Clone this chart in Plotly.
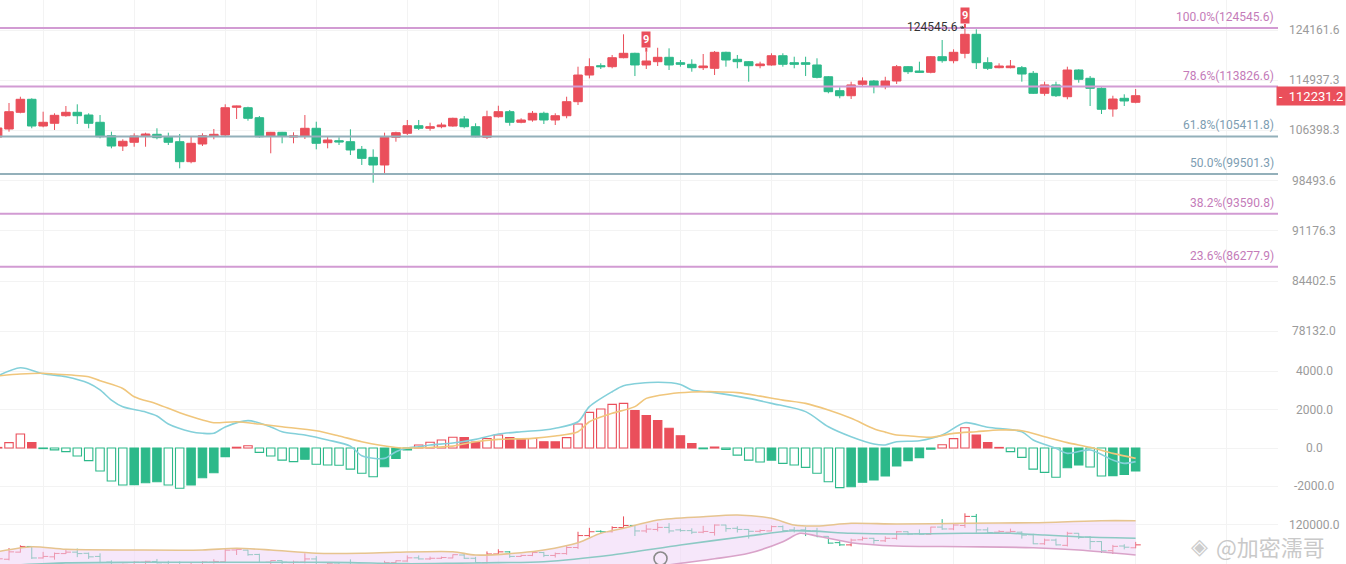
import math
import plotly.graph_objects as go

# ---------------- data ----------------
candle_idx = list(range(101))
open_ = [105318, 106630, 109402, 111612, 107120, 107568, 108828, 109402, 108946, 107734,
         105531, 103876, 104472, 105482, 105761, 105285, 104568, 101402, 104198, 105482,
         105646, 110244, 110175, 108498, 105482, 106089, 105318, 105482, 106745, 104407,
         104729, 104568, 103345, 102083, 100887, 105285, 105925, 107170, 106745, 107004,
         107120, 108282, 107004, 105285, 108659, 109504, 107734, 108116, 109233, 108116,
         108828, 111201, 115855, 117529, 117349, 118983, 119791, 117660, 118255, 119055,
         118073, 117783, 117169, 117061, 119976, 118691, 118255, 117529, 117660, 119346,
         118073, 118073, 117660, 115549, 113097, 112227, 114214, 114797, 113803, 114797,
         117349, 116575, 116341, 119165, 118437, 119791, 123341, 118073, 117169, 117169,
         117169, 116161, 112645, 114104, 112056, 116755, 115275, 113515, 109960, 111783,
         111099]
high_ = [107122, 110979, 112056, 111783, 109504, 109233, 110466, 110757, 109233, 108946,
         106187, 104955, 105925, 106023, 106745, 106023, 105810, 105367, 105925, 106630,
         110757, 110520, 110346, 108775, 106150, 106150, 106089, 108946, 107834, 105367,
         105285, 106581, 103876, 103345, 106023, 106187, 108116, 108116, 107668, 107668,
         108498, 108775, 107568, 109673, 110517, 109791, 108398, 109622, 109504, 109233,
         112056, 117349, 118873, 117963, 119482, 123341, 119901, 120087, 120819, 120711,
         118564, 118691, 119661, 120216, 120087, 119482, 118382, 118255, 119791, 119791,
         119165, 119165, 118873, 115675, 113697, 114673, 115440, 114974, 115549, 117660,
         117475, 118255, 119291, 122267, 120531, 124545.6, 124296, 119055, 117963, 118564,
         117475, 116575, 114673, 114673, 117349, 116881, 115675, 113697, 112227, 112471,
         113393]
low_ = [105003, 106187, 109233, 106745, 106909, 106466, 108659, 107452, 106745, 105116,
        103506, 103083, 103763, 103763, 104955, 104037, 100372, 101152, 103876, 104955,
        105367, 108282, 107999, 105219, 102717, 104311, 104311, 105003, 103345, 103506,
        104037, 102447, 100887, 98178, 99500, 104568, 105646, 106466, 106351, 106745,
        107004, 106745, 105285, 105003, 108498, 107170, 107568, 107834, 107452, 107286,
        108398, 110637, 115261, 116935, 117061, 118873, 115675, 116935, 117475, 116755,
        117349, 116449, 116755, 115855, 117349, 117061, 114673, 117061, 117529, 117349,
        117061, 115675, 115261, 112645, 111783, 111663, 113927, 112645, 113342, 114267,
        116035, 116269, 116161, 118073, 117963, 118873, 116935, 116755, 117061, 117061,
        114673, 112523, 112227, 112005, 111612, 114496, 110466, 109115, 108659, 110466,
        110928]
close_ = [106794, 109504, 111612, 107120, 107734, 108895, 109402, 108828, 107568, 105367,
          103876, 104633, 105482, 105810, 105219, 104472, 101402, 104311, 105531, 105761,
          110175, 110466, 108398, 105367, 106089, 105482, 105482, 106745, 104311, 104842,
          104520, 103242, 101922, 100887, 105285, 106023, 107170, 106745, 107004, 107286,
          108398, 107004, 105367, 108659, 109504, 107734, 108116, 109233, 108116, 108828,
          111201, 115855, 117349, 117349, 118983, 119791, 117660, 118382, 119055, 117660,
          117783, 117169, 117475, 119976, 118564, 118255, 117529, 117836, 119346, 117783,
          117783, 117783, 115440, 112923, 112227, 114104, 114797, 113927, 114797, 117349,
          116449, 116341, 119165, 118437, 119976, 123341, 118073, 117061, 117475, 117475,
          116035, 112645, 114104, 112227, 116755, 115098, 113515, 109909, 111663, 111321,
          112231.2]
last_price = 112231.2
ath_price = 124545.6
ath_idx = 85
td9_idx = [57, 85]

fib_levels = [124545.6, 113826.6, 105411.8, 99501.3, 93590.8, 86277.9]
fib_pcts = ["100.0%", "78.6%", "61.8%", "50.0%", "38.2%", "23.6%"]

price_ticks = [124161.6, 114937.3, 106398.3, 98493.6, 91176.3, 84402.5, 78132.0]
macd_ticks = [4000.0, 2000.0, 0.0, -2000.0]
boll_ticks = [120000.0]

macd_hist = [30, 280, 730, 280, -30, -100, -190, -420, -660, -1200,
             -1720, -1930, -1910, -1810, -1760, -1930, -2100, -1930, -1550, -1290,
             -450, 40, 120, -230, -420, -630, -710, -590, -850, -890,
             -900, -1100, -1320, -1500, -975, -540, -100, 160, 300, 420,
             560, 540, 310, 500, 680, 540, 450, 500, 330, 320,
             540, 1250, 1860, 2040, 2280, 2330, 1950, 1690, 1430, 1030,
             640, 230, -40, 50, -70, -370, -630, -730, -630, -800,
             -890, -1010, -1320, -1760, -2070, -2020, -1790, -1670, -1460, -940,
             -660, -500, -60, 170, 490, 1060, 680, 280, 30, -190,
             -490, -1100, -1270, -1530, -1030, -890, -990, -1460, -1440, -1380,
             -1200]

dif_idx = [0, 2, 4, 6, 8, 9, 10, 11, 13, 14, 15, 17, 18, 19, 20, 22, 24, 25, 27, 29,
           31, 32, 34, 35, 36, 37, 38, 40, 42, 44, 46, 48, 49, 51, 52, 54, 55, 58, 60, 61,
           63, 66, 68, 71, 73, 75, 77, 78, 79, 81, 83, 85, 87, 90, 91, 93, 94, 96, 98, 99, 100]
dif_val = [3760, 4190, 3880, 3720, 3380, 3030, 2500, 2150, 1880, 1670, 1250, 850, 770, 770, 1100,
           1430, 1100, 850, 680, 420, 100, -400, -540, -190, 0, 70, 160, 260, 450, 730,
           850, 940, 1030, 1370, 2160, 2940, 3250, 3430, 3320, 3030, 2890, 2590, 2330, 1900,
           1110, 590, 210, 160, 330, 383, 680, 1320, 1080, 850, 420, -17, -280, -100, -630,
           -800, -710]
dea_idx = [0, 2, 4, 5, 8, 9, 11, 12, 14, 16, 18, 19, 21, 23, 25, 28, 30, 32, 35, 36, 38, 40,
           42, 44, 47, 49, 51, 52, 54, 56, 57, 59, 61, 63, 65, 67, 69, 71, 73, 75, 77, 78, 79,
           80, 82, 84, 86, 88, 90, 92, 94, 96, 98, 100]
dea_val = [3760, 3860, 3900, 3860, 3720, 3510, 3110, 2680, 2300, 1840, 1460, 1320, 1370, 1250,
           1110, 900, 630, 330, 30, 0, 30, 100, 330, 450, 505, 626, 850, 1370, 1810, 2160,
           2590, 2820, 2920, 2940, 2890, 2710, 2500, 2330, 1980, 1550, 1010, 830, 680, 640,
           557, 765, 850, 940, 905, 590, 280, 35, -280, -540]

boll_up_idx = [0, 3, 6, 12, 18, 21, 24, 28, 32, 35, 40, 42, 46, 48, 51, 53, 55, 58, 62, 65,
               68, 70, 72, 75, 79, 85, 91, 97, 100]
boll_up_val = [109570, 111520, 110505, 110230, 110230, 110895, 110230, 108945, 108945, 109335,
               109570, 108280, 109180, 110230, 113080, 116745, 118695, 121930, 123220, 123880,
               122595, 119980, 119590, 120645, 120370, 120645, 120880, 121660, 121660]
boll_mid_idx = [0, 6, 12, 20, 28, 31, 36, 40, 44, 48, 54, 60, 66, 70, 75, 79, 85, 89, 92, 95, 100]
boll_mid_val = [104000, 105200, 105435, 105435, 105435, 105300, 104900, 105045, 105300, 105670,
                108280, 112180, 115690, 117760, 116745, 116470, 116745, 116745, 116080, 115420,
                114795]
boll_low_idx = [0, 20, 40, 50, 55, 58, 60, 63, 66, 69, 70.5, 72, 75, 79, 85, 91, 95, 100]
boll_low_val = [99000, 100000, 100500, 100800, 102000, 103800, 105045, 106800, 108945, 113470,
                116745, 115690, 113080, 111790, 111520, 111130, 110230, 108280]

event_idx = [58.25]
event_val = [106917]

# ---------------- styling / layout constants ----------------
W, H = 1346, 564
RED = "#ea4f5b"
GREEN = "#2db98a"
FIB_PINK = "#d29bd3"
FIB_PINK_TXT = "#c47bb9"
FIB_BLUE = "#93b0ba"
FIB_BLUE_TXT = "#7d9db2"
GRID = "#f3f3f3"
AXIS_TXT = "#9b9b9b"
FONT = "Roboto"

x_right = 1278 / W
label_x = 1314 / W
price_dom = [1 - 345 / H, 1.0]
macd_dom = [64 / H, 1 - 345 / H]
boll_dom = [0.0, 64 / H]
x_range = [0.209, 112.51]

fig = go.Figure()

# fibonacci lines (drawn first, beneath candles)
for lvl, pct in zip(fib_levels, fib_pcts):
    pink = pct in ("100.0%", "78.6%", "38.2%", "23.6%")
    lc = FIB_PINK if pink else FIB_BLUE
    fig.add_trace(go.Scatter(x=x_range, y=[lvl, lvl], mode="lines",
                             line=dict(color=lc, width=2), xaxis="x", yaxis="y",
                             showlegend=False, hoverinfo="skip", cliponaxis=False))

# price candles
fig.add_trace(go.Candlestick(
    x=candle_idx, open=open_, high=high_, low=low_, close=close_,
    increasing=dict(line=dict(color=RED, width=1), fillcolor=RED),
    decreasing=dict(line=dict(color=GREEN, width=1), fillcolor=GREEN),
    whiskerwidth=0, xaxis="x", yaxis="y", showlegend=False, hoverinfo="skip"))

# MACD histogram (hollow when magnitude grows)
bar_fill, bar_line = [], []
for i, v in enumerate(macd_hist):
    prev = macd_hist[i - 1] if i > 0 else 0
    base = RED if v >= 0 else GREEN
    bar_line.append(base)
    bar_fill.append("white" if abs(v) > abs(prev) else base)
fig.add_trace(go.Bar(x=candle_idx, y=macd_hist, width=0.74,
                     marker=dict(color=bar_fill, line=dict(color=bar_line, width=1.1)),
                     xaxis="x2", yaxis="y2", showlegend=False, hoverinfo="skip"))
fig.add_trace(go.Scatter(x=dif_idx, y=dif_val, mode="lines",
                         line=dict(color="#84d0da", width=1.6, shape="spline", smoothing=0.8),
                         xaxis="x2", yaxis="y2", showlegend=False, hoverinfo="skip"))
fig.add_trace(go.Scatter(x=dea_idx, y=dea_val, mode="lines",
                         line=dict(color="#f0c67c", width=1.6, shape="spline", smoothing=0.8),
                         xaxis="x2", yaxis="y2", showlegend=False, hoverinfo="skip"))

# Bollinger panel
fig.add_trace(go.Scatter(x=boll_up_idx, y=boll_up_val, mode="lines",
                         line=dict(color="#e6c48f", width=1.6, shape="spline", smoothing=0.8),
                         xaxis="x3", yaxis="y3", showlegend=False, hoverinfo="skip"))
fig.add_trace(go.Scatter(x=boll_low_idx, y=boll_low_val, mode="lines", fill="tonexty",
                         fillcolor="rgba(238,212,245,0.55)",
                         line=dict(color="#d9a3c9", width=1.6, shape="spline", smoothing=0.8),
                         xaxis="x3", yaxis="y3", showlegend=False, hoverinfo="skip"))
fig.add_trace(go.Scatter(x=boll_mid_idx, y=boll_mid_val, mode="lines",
                         line=dict(color="#8cc9c4", width=1.6, shape="spline", smoothing=0.8),
                         xaxis="x3", yaxis="y3", showlegend=False, hoverinfo="skip"))
fig.add_trace(go.Ohlc(x=candle_idx, open=open_, high=high_, low=low_, close=close_,
                      tickwidth=0.45,
                      increasing=dict(line=dict(color=RED, width=1)),
                      decreasing=dict(line=dict(color=GREEN, width=1)),
                      xaxis="x3", yaxis="y3", showlegend=False, hoverinfo="skip"))
fig.add_trace(go.Scatter(x=event_idx, y=event_val, mode="markers",
                         marker=dict(symbol="circle-open", size=13, color="#8a8a8a",
                                     line=dict(width=1.6)),
                         xaxis="x3", yaxis="y3", showlegend=False, hoverinfo="skip"))

# axes
xcommon = dict(domain=[0, x_right], range=x_range, showticklabels=False, ticks="",
               showgrid=True, gridcolor=GRID, gridwidth=1, tick0=4, dtick=8,
               zeroline=False, showline=False, fixedrange=True)
fig.update_layout(
    xaxis=dict(anchor="y", rangeslider=dict(visible=False), **xcommon),
    xaxis2=dict(anchor="y2", matches="x", **xcommon),
    xaxis3=dict(anchor="y3", matches="x", rangeslider=dict(visible=False), **xcommon),
    yaxis=dict(domain=price_dom, type="log",
               range=[math.log10(price_ticks[0]) - 0.00066782 * 315,
                      math.log10(price_ticks[0]) + 0.00066782 * 30],
               tickvals=price_ticks, showticklabels=False, showgrid=True, gridcolor=GRID,
               zeroline=False, showline=False, ticks=""),
    yaxis2=dict(domain=macd_dom, range=[-2714, 5377], tickvals=macd_ticks,
                showticklabels=False, showgrid=True, gridcolor=GRID, zeroline=False,
                showline=False, ticks=""),
    yaxis3=dict(domain=boll_dom, range=[104772, 129732], tickvals=boll_ticks,
                showticklabels=False, showgrid=True, gridcolor=GRID, zeroline=False,
                showline=False, ticks=""),
    width=W, height=H, margin=dict(l=0, r=0, t=0, b=0),
    paper_bgcolor="white", plot_bgcolor="white", showlegend=False,
    font=dict(family=FONT), boxgap=0.25, boxgroupgap=0,
)

# fibonacci labels
for lvl, pct in zip(fib_levels, fib_pcts):
    pink = pct in ("100.0%", "78.6%", "38.2%", "23.6%")
    tc = FIB_PINK_TXT if pink else FIB_BLUE_TXT
    fig.add_annotation(xref="paper", yref="y", x=1276 / W, y=math.log10(lvl),
                       text=f"{pct}({lvl:.1f})", showarrow=False, xanchor="right",
                       yanchor="bottom", yshift=2, font=dict(family=FONT, size=12, color=tc))

# right-side tick labels (centred like the source)
for v in price_ticks:
    fig.add_annotation(xref="paper", yref="y", x=label_x, y=math.log10(v), text=f"{v:.1f}",
                       showarrow=False, xanchor="center", yanchor="middle",
                       font=dict(family=FONT, size=12, color=AXIS_TXT))
for v in macd_ticks:
    fig.add_annotation(xref="paper", yref="y2", x=label_x, y=v, text=f"{v:.1f}",
                       showarrow=False, xanchor="center", yanchor="middle",
                       font=dict(family=FONT, size=12, color=AXIS_TXT))
for v in boll_ticks:
    fig.add_annotation(xref="paper", yref="y3", x=label_x, y=v, text=f"{v:.1f}",
                       showarrow=False, xanchor="center", yanchor="middle",
                       font=dict(family=FONT, size=12, color=AXIS_TXT))

# last price tag
fig.add_annotation(xref="paper", yref="y", x=1.0, y=math.log10(last_price),
                   text=f"-  {last_price:.1f}", showarrow=False, xanchor="right",
                   yanchor="middle", bgcolor=RED, width=64, height=14, borderpad=2,
                   align="center", font=dict(family=FONT, size=13, color="white"))

# all-time-high label
fig.add_annotation(x=ath_idx, y=math.log10(ath_price), xref="x", yref="y",
                   text=f"{ath_price:.1f}", showarrow=True, ax=-5, ay=-1, xanchor="right",
                   arrowhead=2, arrowsize=0.7, arrowwidth=1, arrowcolor="#444",
                   font=dict(family=FONT, size=12, color="#333"))

# TD "9" badges
for i in td9_idx:
    fig.add_annotation(x=i, y=math.log10(high_[i]), xref="x", yref="y", text="<b>9</b>",
                       showarrow=True, ax=0, ay=-12, arrowhead=0, arrowwidth=2,
                       arrowcolor=RED, standoff=0, bgcolor=RED, borderpad=1,
                       font=dict(family=FONT, size=11, color="white"))

# watermark
fig.add_annotation(xref="paper", yref="paper", x=1199 / W, y=1 - 546 / H, text="◈",
                   showarrow=False, xanchor="center", yanchor="middle",
                   font=dict(family="DejaVu Sans", size=22, color="#cdcdcd"))
fig.add_annotation(xref="paper", yref="paper", x=1214 / W, y=1 - 546 / H, text="@加密濡哥",
                   showarrow=False, xanchor="left", yanchor="middle",
                   font=dict(family="Noto Sans CJK SC", size=22, color="#c9c9c9"))

fig.write_html("out.html", config={"displayModeBar": False},
               post_script="document.body.style.margin='0px';")
